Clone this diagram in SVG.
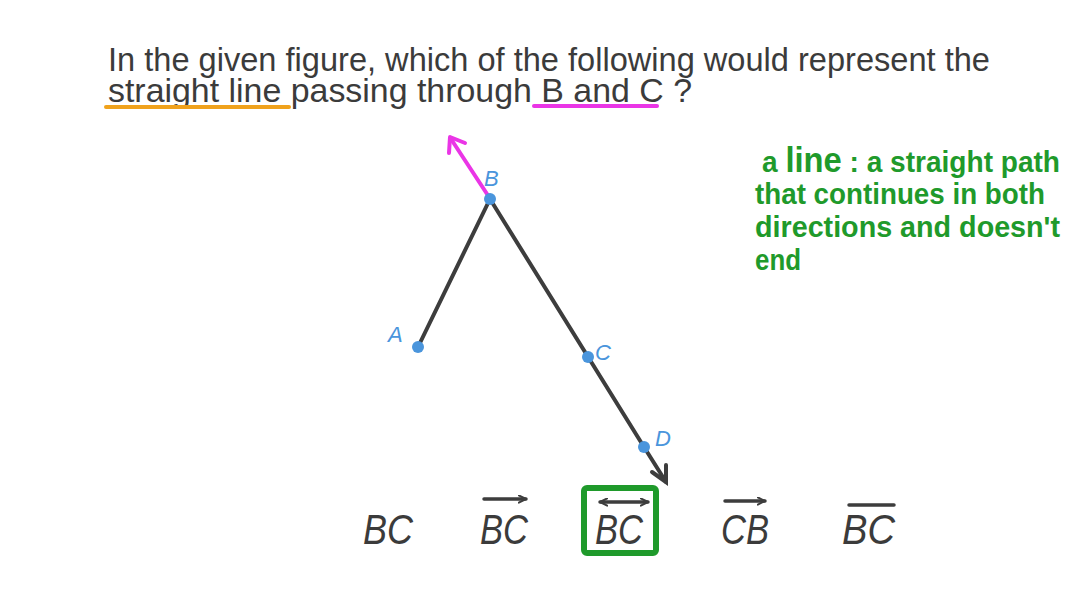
<svg xmlns="http://www.w3.org/2000/svg" width="1088" height="612" viewBox="0 0 1088 612">
<style>
.t{font-family:"Liberation Sans",Arial,sans-serif;fill:#3b3b3b}
.g{font-family:"Liberation Sans",Arial,sans-serif;fill:#1f9a2b;font-weight:bold}
.lbl{font-family:"Liberation Sans",Arial,sans-serif;font-style:italic;fill:#4a95dc;font-size:22px}
.opt{font-family:"Liberation Sans",Arial,sans-serif;font-style:italic;fill:#3b3b3b;font-size:42px}
.seg{stroke:#3d3d3d;stroke-width:4;stroke-linecap:round;fill:none}
.dot{fill:#4a95dc}
.bar{stroke:#3d3d3d;stroke-width:3.5;stroke-linecap:round;fill:none}
</style>
<defs>
<marker id="ah" viewBox="0 0 10 10" refX="9" refY="5" markerWidth="9" markerHeight="9" orient="auto-start-reverse" markerUnits="userSpaceOnUse">
<path d="M1,1 L9,5 L1,9" fill="none" stroke="#3d3d3d" stroke-width="2.2" stroke-linecap="round" stroke-linejoin="round"/>
</marker>
</defs>
<rect width="1088" height="612" fill="#ffffff"/>
<g id="title">
<text class="t" font-size="34"><tspan x="108" y="71" textLength="882" lengthAdjust="spacingAndGlyphs">In the given figure, which of the following would represent the</tspan><tspan x="108" y="102" textLength="584" lengthAdjust="spacingAndGlyphs">straight line passing through B and C ?</tspan></text>
<line x1="106" y1="107" x2="289" y2="107" stroke="#f0a21c" stroke-width="4" stroke-linecap="round"/>
<line x1="534" y1="106" x2="657" y2="106" stroke="#ea35e6" stroke-width="4" stroke-linecap="round"/>
</g>
<g id="connectors">
<line class="seg" x1="418" y1="347" x2="490" y2="199"/>
<line class="seg" x1="490" y1="199" x2="644" y2="447"/>
<line class="seg" x1="644" y1="447" x2="666" y2="482"/>
<path class="seg" d="M652,472 L666,482 L666,465"/>
<line x1="489" y1="197" x2="451" y2="139" stroke="#ea35e6" stroke-width="4" stroke-linecap="round"/>
<path d="M449,153 L450,137 L465,143" fill="none" stroke="#ea35e6" stroke-width="4" stroke-linecap="round" stroke-linejoin="round"/>
</g>
<g id="point-A"><circle class="dot" cx="418" cy="347" r="6"/><text class="lbl" x="388" y="342">A</text></g>
<g id="point-B"><circle class="dot" cx="490" cy="199" r="6"/><text class="lbl" x="484" y="186">B</text></g>
<g id="point-C"><circle class="dot" cx="588" cy="357" r="6"/><text class="lbl" x="595" y="360">C</text></g>
<g id="point-D"><circle class="dot" cx="644" cy="447" r="6"/><text class="lbl" x="655" y="446">D</text></g>
<g id="definition">
<text class="g" x="762" y="172" font-size="30" textLength="298" lengthAdjust="spacingAndGlyphs">a <tspan font-size="35">line</tspan> : a straight path</text>
<text class="g" x="755" y="204" font-size="30" textLength="290" lengthAdjust="spacingAndGlyphs">that continues in both</text>
<text class="g" x="755" y="237" font-size="30" textLength="305" lengthAdjust="spacingAndGlyphs">directions and doesn't</text>
<text class="g" x="755" y="270" font-size="30" textLength="46" lengthAdjust="spacingAndGlyphs">end</text>
</g>
<g id="option-1"><text class="opt" x="363" y="544" textLength="50" lengthAdjust="spacingAndGlyphs">BC</text></g>
<g id="option-2"><text class="opt" x="480" y="544" textLength="48" lengthAdjust="spacingAndGlyphs">BC</text><line class="bar" x1="484" y1="499" x2="526" y2="499" marker-end="url(#ah)"/></g>
<g id="option-3">
<rect x="584" y="488" width="72" height="65" fill="none" stroke="#1f9a2b" stroke-width="6" rx="3"/>
<text class="opt" x="595" y="544" textLength="48" lengthAdjust="spacingAndGlyphs">BC</text>
<line class="bar" x1="600" y1="502" x2="648" y2="502" marker-start="url(#ah)" marker-end="url(#ah)"/>
</g>
<g id="option-4"><text class="opt" x="721" y="544" textLength="48" lengthAdjust="spacingAndGlyphs">CB</text><line class="bar" x1="725" y1="501" x2="765" y2="501" marker-end="url(#ah)"/></g>
<g id="option-5"><text class="opt" x="842" y="544" textLength="53" lengthAdjust="spacingAndGlyphs">BC</text><line class="bar" x1="849" y1="505" x2="894" y2="505"/></g>
</svg>
